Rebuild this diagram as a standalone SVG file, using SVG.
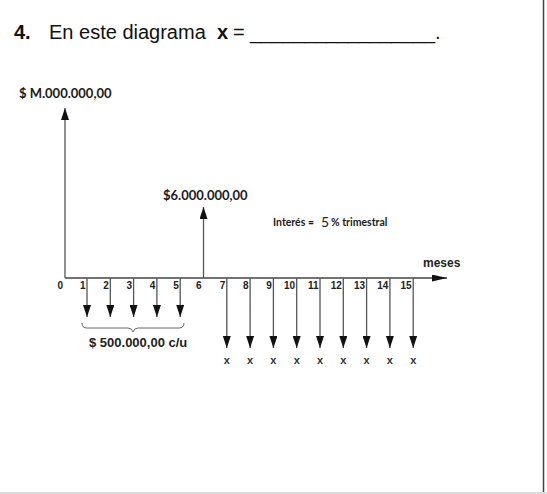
<svg xmlns="http://www.w3.org/2000/svg" width="547" height="494" viewBox="0 0 547 494">
<defs>
<style>
.t{font-family:"Liberation Sans",Arial,sans-serif;font-size:20px;fill:#111}
.b{font-weight:bold}
.cal{font-family:Lato,"Open Sans",sans-serif;font-weight:bold;fill:#1a1a1a}
.num{font-family:"Liberation Sans",Arial,sans-serif;font-weight:bold;font-size:10px;fill:#222;text-anchor:end}
.xl{font-family:"Liberation Sans",Arial,sans-serif;font-weight:bold;font-size:11px;fill:#333;text-anchor:middle}
.ln{stroke:#555;stroke-width:1.3;fill:none}
.ax{stroke:#444;stroke-width:1.5;fill:none}
</style>
<marker id="ah" viewBox="0 0 12 8" refX="12" refY="4" markerWidth="12" markerHeight="8" markerUnits="userSpaceOnUse" orient="auto">
<path d="M0,0 L12,4 L0,8 z" fill="#111"/>
</marker>
<marker id="axh" viewBox="0 0 15 7" refX="15" refY="3.5" markerWidth="15" markerHeight="7" markerUnits="userSpaceOnUse" orient="auto">
<path d="M0,0 L15,3.5 L0,7 z" fill="#111"/>
</marker>
</defs>
<rect width="547" height="494" fill="#fff"/>
<line x1="543.5" y1="0" x2="543.5" y2="494" stroke="#444" stroke-width="1.5"/>
<line x1="0" y1="493" x2="547" y2="493" stroke="#ddd" stroke-width="2"/>

<g id="title">
<text x="14" y="39" class="t b">4.</text>
<text x="49" y="39" class="t">En este diagrama</text>
<text x="217" y="39" class="t b">x</text>
<text x="233" y="39" class="t">=</text>
<text x="250" y="39" class="t" textLength="185" lengthAdjust="spacing">_________________</text>
<text x="435" y="39" class="t">.</text>
</g>

<g id="connectors">
<line class="ax" x1="65" y1="278" x2="447" y2="278" marker-end="url(#axh)"/>
<line class="ln" x1="65" y1="278" x2="65" y2="108" marker-end="url(#ah)"/>
<line class="ln" x1="203.5" y1="278" x2="203.5" y2="207" marker-end="url(#ah)"/>
<line class="ln" x1="87" y1="278" x2="87" y2="317" marker-end="url(#ah)"/>
<line class="ln" x1="110.3" y1="278" x2="110.3" y2="317" marker-end="url(#ah)"/>
<line class="ln" x1="133.6" y1="278" x2="133.6" y2="317" marker-end="url(#ah)"/>
<line class="ln" x1="156.9" y1="278" x2="156.9" y2="317" marker-end="url(#ah)"/>
<line class="ln" x1="180.2" y1="278" x2="180.2" y2="317" marker-end="url(#ah)"/>
<line class="ln" x1="226.8" y1="278" x2="226.8" y2="348" marker-end="url(#ah)"/>
<line class="ln" x1="250.1" y1="278" x2="250.1" y2="348" marker-end="url(#ah)"/>
<line class="ln" x1="273.4" y1="278" x2="273.4" y2="348" marker-end="url(#ah)"/>
<line class="ln" x1="296.7" y1="278" x2="296.7" y2="348" marker-end="url(#ah)"/>
<line class="ln" x1="320" y1="278" x2="320" y2="348" marker-end="url(#ah)"/>
<line class="ln" x1="343.3" y1="278" x2="343.3" y2="348" marker-end="url(#ah)"/>
<line class="ln" x1="366.6" y1="278" x2="366.6" y2="348" marker-end="url(#ah)"/>
<line class="ln" x1="389.9" y1="278" x2="389.9" y2="348" marker-end="url(#ah)"/>
<line class="ln" x1="413.2" y1="278" x2="413.2" y2="348" marker-end="url(#ah)"/>
<path d="M82,323 Q82,328 87,328 L128,328 Q132,328 133,332 Q134,328 138,328 L179,328 Q184,328 184,323" stroke="#666" stroke-width="1" fill="none"/>
</g>

<g id="label-M"><text x="19" y="98" class="cal" font-size="13">$ M.000.000,00</text></g>
<g id="label-6M"><text x="163" y="200" class="cal" font-size="13">$6.000.000,00</text></g>
<g id="interes">
<text x="273" y="226" class="cal" font-size="10.5">Interés =</text>
<text x="321" y="227" font-family="Lato,sans-serif" font-size="14" fill="#222">5</text>
<text x="331" y="226" class="cal" font-size="10.5">% trimestral</text>
</g>
<g id="meses"><text x="423" y="267" class="b" font-family="Liberation Sans,Arial,sans-serif" font-size="12" fill="#222">meses</text></g>

<g id="ticks">
<text x="63" y="289" class="num">0</text>
<text x="85.5" y="289" class="num">1</text>
<text x="108.8" y="289" class="num">2</text>
<text x="132.1" y="289" class="num">3</text>
<text x="155.4" y="289" class="num">4</text>
<text x="178.7" y="289" class="num">5</text>
<text x="201.5" y="289" class="num">6</text>
<text x="225.3" y="289" class="num">7</text>
<text x="248.6" y="289" class="num">8</text>
<text x="271.9" y="289" class="num">9</text>
<text x="295.2" y="289" class="num">10</text>
<text x="318.5" y="289" class="num">11</text>
<text x="341.8" y="289" class="num">12</text>
<text x="365.1" y="289" class="num">13</text>
<text x="388.4" y="289" class="num">14</text>
<text x="411.7" y="289" class="num">15</text>
</g>

<g id="cuota"><text x="89" y="347" class="b" font-family="Liberation Sans,Arial,sans-serif" font-size="13" fill="#222">$ 500.000,00 c/u</text></g>

<g id="x-labels">
<text x="226.8" y="364" class="xl">x</text>
<text x="250.1" y="364" class="xl">x</text>
<text x="273.4" y="364" class="xl">x</text>
<text x="296.7" y="364" class="xl">x</text>
<text x="320" y="364" class="xl">x</text>
<text x="343.3" y="364" class="xl">x</text>
<text x="366.6" y="364" class="xl">x</text>
<text x="389.9" y="364" class="xl">x</text>
<text x="413.2" y="364" class="xl">x</text>
</g>
</svg>
